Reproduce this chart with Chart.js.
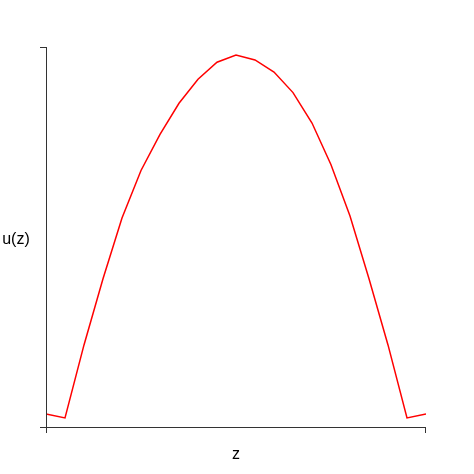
<!DOCTYPE html>
<html>
<head>
<script src="https://cdn.jsdelivr.net/npm/chart.js@4"></script>
<style>
  html, body { margin: 0; padding: 0; background: #fff; }
  #wrap { width: 474px; height: 474px; }
</style>
</head>
<body>
<div id="wrap"><canvas id="c"></canvas></div>
<script>
const zValues = [0, 1, 2, 3, 4, 5, 6, 7, 8, 9, 10, 11, 12, 13, 14, 15, 16, 17, 18, 19, 20];
const uValues = [0.034, 0.024, 0.216, 0.39, 0.55, 0.675, 0.77, 0.852, 0.915, 0.96, 0.979,
                 0.966, 0.934, 0.88, 0.80, 0.69, 0.555, 0.39, 0.216, 0.024, 0.034];
const xLabel = "z";
const yLabel = "u(z)";

// axes drawn by hand, base-graphics style: plain lines with end ticks only
const axesPlugin = {
  id: "axes",
  afterDraw(chart) {
    const { ctx, chartArea: a } = chart;
    ctx.save();
    ctx.strokeStyle = "#333";
    ctx.lineWidth = 1;
    ctx.beginPath();
    ctx.moveTo(a.left + 0.5, a.top);
    ctx.lineTo(a.left + 0.5, a.bottom);
    ctx.moveTo(a.left, a.top + 0.5);
    ctx.lineTo(a.left - 6, a.top + 0.5);
    ctx.moveTo(a.left, a.bottom + 0.5);
    ctx.lineTo(a.left - 6, a.bottom + 0.5);
    ctx.moveTo(a.left, a.bottom + 0.5);
    ctx.lineTo(a.right, a.bottom + 0.5);
    ctx.moveTo(a.left + 0.5, a.bottom);
    ctx.lineTo(a.left + 0.5, a.bottom + 6);
    ctx.moveTo(a.right - 0.5, a.bottom);
    ctx.lineTo(a.right - 0.5, a.bottom + 6);
    ctx.stroke();
    ctx.fillStyle = "#000";
    ctx.font = "16px 'Liberation Sans', Arial, sans-serif";
    ctx.textAlign = "center";
    ctx.textBaseline = "middle";
    ctx.fillText(xLabel, (a.left + a.right) / 2, 455);
    ctx.fillText(yLabel, 16, 240);
    ctx.restore();
  }
};

new Chart(document.getElementById("c"), {
  type: "line",
  data: {
    datasets: [{
      data: zValues.map((z, i) => ({ x: z, y: uValues[i] })),
      borderColor: "#ff0000",
      borderWidth: 1.5,
      pointRadius: 0,
      tension: 0,
      fill: false
    }]
  },
  options: {
    responsive: true,
    maintainAspectRatio: false,
    animation: false,
    layout: { padding: { left: 46, right: 48, top: 47, bottom: 47 } },
    plugins: { legend: { display: false }, tooltip: { enabled: false } },
    scales: {
      x: { type: "linear", min: 0, max: 20, display: false },
      y: { type: "linear", min: 0, max: 1, display: false }
    }
  },
  plugins: [axesPlugin]
});
</script>
</body>
</html>
